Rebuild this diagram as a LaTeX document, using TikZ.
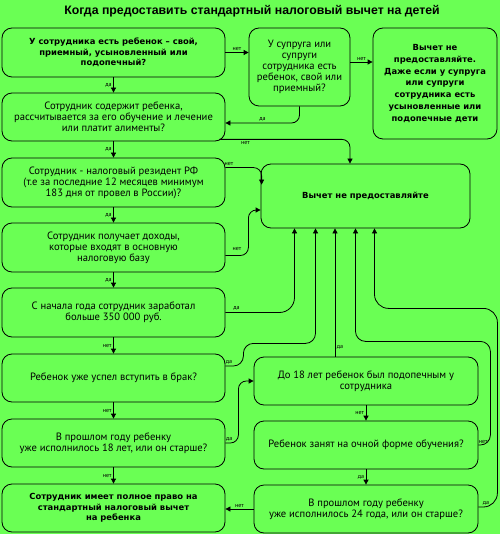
\documentclass[tikz,border=0pt]{standalone}
\usepackage{fontspec}
\setmainfont{PT Sans}
\newfontfamily\headfont{Liberation Sans}
\newfontfamily\boldfont{DejaVu Sans}
\usetikzlibrary{arrows.meta,calc}
\definecolor{BackClr}{RGB}{106,255,84}

\begin{document}
\begin{tikzpicture}[x=1pt,y=-1pt,
  box/.style={draw,line width=0.8pt,rounded corners=10pt,align=center,inner sep=0pt,
    font=\fontsize{10.6}{11}\selectfont},
  boldbox/.style={box,font=\boldfont\fontsize{8.4}{10.5}\selectfont\bfseries},
  arr/.style={line width=0.8pt,-{Triangle[length=5pt,width=5pt]},rounded corners=8pt},
  lbl/.style={font=\fontsize{6}{6}\selectfont,inner sep=1.5pt}]
\fill[BackClr] (0,0) rectangle (500,534);
\useasboundingbox (0,0) rectangle (500,534);

\node[font=\headfont\fontsize{12.3}{12}\selectfont\bfseries] (T) at (252,11)
  {Когда предоставить стандартный налоговый вычет на детей};

\node[boldbox,minimum width=223,minimum height=49] (A) at (113.5,52.5)
  {У сотрудника есть ребенок – свой,\\приемный, усыновленный или\\подопечный?};
\node[box,minimum width=101,minimum height=78] (B) at (299.5,67)
  {У супруга или\\супруги\\сотрудника есть\\ребенок, свой или\\приемный?};
\node[boldbox,minimum width=124,minimum height=111,font=\boldfont\fontsize{8.4}{11.7}\selectfont\bfseries] (C) at (435,83.5)
  {Вычет не\\предоставляйте.\\Даже если у супруга\\или супруги\\сотрудника есть\\усыновленные или\\подопечные дети};
\node[box,minimum width=223,minimum height=48] (D) at (113.5,117)
  {Сотрудник содержит ребенка,\\рассчитывается за его обучение и лечение\\или платит алименты?};
\node[box,minimum width=223,minimum height=49] (E) at (113.5,182.5)
  {Сотрудник - налоговый резидент РФ\\(т.е за последние 12 месяцев минимум\\183 дня от провел в России)?};
\node[boldbox,minimum width=209,minimum height=64] (F) at (365.5,196)
  {Вычет не предоставляйте};
\node[box,minimum width=223,minimum height=49] (G) at (113.5,247.5)
  {Сотрудник получает доходы,\\которые входят в основную\\налоговую базу};
\node[box,minimum width=223,minimum height=49] (H) at (113.5,312.5)
  {С начала года сотрудник заработал\\больше 350 000 руб.};
\node[box,minimum width=223,minimum height=48] (I) at (113.5,378)
  {Ребенок уже успел вступить в брак?};
\node[box,minimum width=223,minimum height=48] (J) at (113.5,443)
  {В прошлом году ребенку\\уже исполнилось 18 лет, или он старше?};
\node[boldbox,minimum width=223,minimum height=48] (K) at (113.5,508)
  {Сотрудник имеет полное право на\\стандартный налоговый вычет\\на ребенка};
\node[box,minimum width=224,minimum height=48] (L) at (366,381)
  {До 18 лет ребенок был подопечным у\\сотрудника};
\node[box,minimum width=224,minimum height=48] (M) at (366,445)
  {Ребенок занят на очной форме обучения?};
\node[box,minimum width=224,minimum height=48] (N) at (366,509)
  {В прошлом году ребенку\\уже исполнилось 24 года, или он старше?};

\foreach \a/\b/\t in {A/D/да,D/E/да,E/G/да,G/H/да,H/I/нет,I/J/нет,J/K/нет,L/M/нет,M/N/да}
  \draw[arr] (\a.south) -- (\b.north) node[midway,left,lbl]{\t};

\draw[arr] (A.east) -- (A.east -| B.west) node[midway,above,lbl]{нет};
\draw[arr] ($(B.east)+(0,-5)$) -- ($(C.west)+(0,-21.5)$) node[midway,above,lbl]{нет};
\draw[arr] (B.south) |- ($(D.east)+(0,6)$) node[pos=0.75,above,lbl]{да};
\draw[arr] ($(D.south east)+(-6,-2)$) -| ($(F.north)+(-15.5,0)$) node[pos=0.1,below,lbl]{нет};
\draw[arr] ($(E.north east)+(0,10)$) -| ($(F.north west)+(1,21)$) node[pos=0.05,above,lbl]{нет};
\draw[arr] ($(G.east)+(0,8)$) -- ++(23,0) node[midway,above=3pt,lbl]{нет} |- ($(F.west)+(0,14)$);
\draw[arr,rounded corners=15pt] (H.east) -| ($(F.south)+(-71,0)$) node[pos=0.08,above,lbl]{да};
\draw[arr,rounded corners=10pt] ($(I.east)+(0,-12)$) -- ++(18,0) node[pos=0.2,above,lbl]{да}
  |- ($(F.south)+(-50,115)$) -- ($(F.south)+(-50,0)$);
\draw[arr] (J.east) -- ++(13,0) node[pos=0.3,above,lbl]{да} |- (L.west);
\draw[arr] ($(L.north)+(-31,0)$) -- ($(F.south)+(-30.5,0)$) node[pos=0.07,right,lbl]{да};
\draw[arr,rounded corners=10pt] (M.east) -- ++(12,0) node[pos=0.4,above,lbl]{нет}
  |- ($(F.south)+(-10,113)$) -- ($(F.south)+(-10,0)$);
\draw[arr,rounded corners=14pt] ($(N.east)+(0,-2)$) -- ++(19,0) node[pos=0.4,above,lbl]{да}
  |- ($(F.south)+(9,80)$) -- ($(F.south)+(9,0)$);
\draw[arr] (N.west) -- (N.west -| K.east) node[midway,above,lbl]{нет};

\end{tikzpicture}
\end{document}
